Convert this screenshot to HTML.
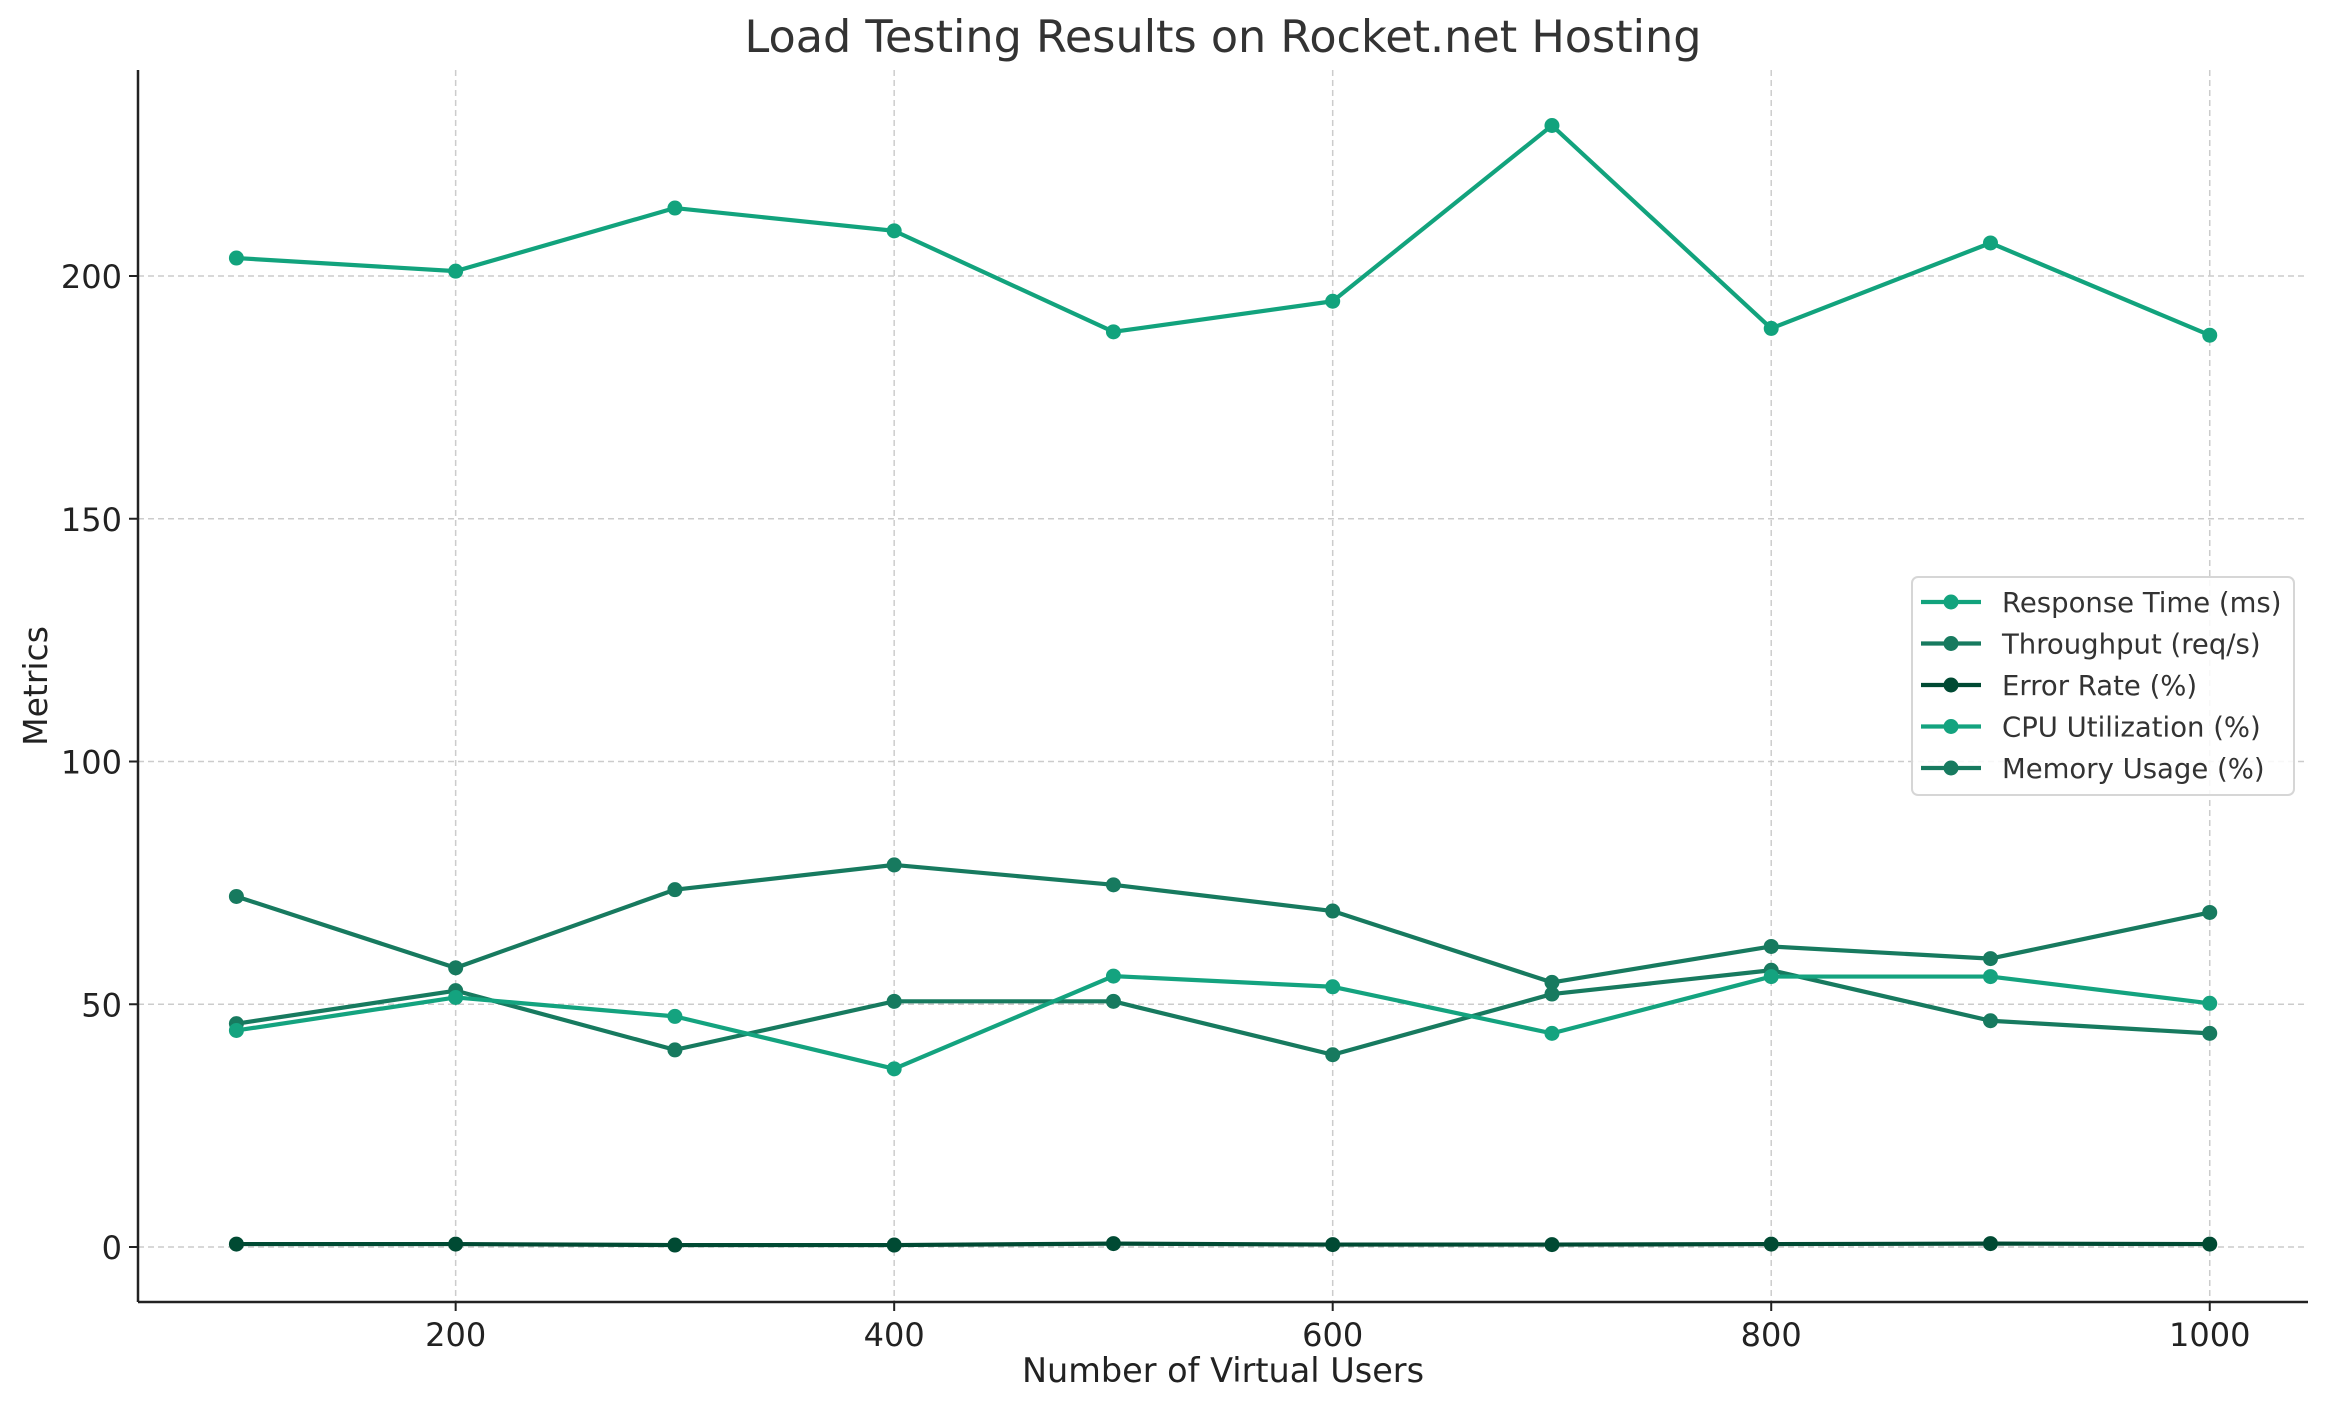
<!DOCTYPE html>
<html><head><meta charset="utf-8"><style>
html,body{margin:0;padding:0;background:#fff;}
svg{display:block;font-family:"DejaVu Sans","Liberation Sans",sans-serif;}
</style></head><body>
<svg id="c" width="2327" height="1409" viewBox="0 0 2327 1409" xmlns="http://www.w3.org/2000/svg">
<rect width="2327" height="1409" fill="#fff"/>
<g id="grid"></g>
<g id="series"></g>
<line x1="138" y1="70" x2="138" y2="1302" stroke="#222" stroke-width="2.5"/>
<line x1="138" y1="1302" x2="2308" y2="1302" stroke="#222" stroke-width="2.5"/>
<g id="ticks" fill="#222" font-size="32"></g>
<text x="1223" y="52" text-anchor="middle" font-size="44.5" fill="#333">Load Testing Results on Rocket.net Hosting</text>
<text x="1223" y="1382" text-anchor="middle" font-size="33.5" fill="#222">Number of Virtual Users</text>
<text transform="translate(47,686) rotate(-90)" text-anchor="middle" font-size="33" fill="#222">Metrics</text>
<g id="legend"></g>
</svg>
<script>
const NS="http://www.w3.org/2000/svg";
function el(p,t,a,txt){const e=document.createElementNS(NS,t);for(const k in a)e.setAttribute(k,a[k]);if(txt!=null)e.textContent=txt;p.appendChild(e);return e;}
const X=v=>236.4+(v-100)*2.1926, Y=v=>1247-v*4.855;
const grid=document.getElementById('grid'),ticks=document.getElementById('ticks');
[200,400,600,800,1000].forEach(v=>{const x=X(v);
el(grid,'line',{x1:x,y1:70,x2:x,y2:1302,stroke:'#ccc','stroke-width':1.5,'stroke-dasharray':'6,4'});
el(ticks,'line',{x1:x,y1:1302,x2:x,y2:1311,stroke:'#222','stroke-width':2});
el(ticks,'text',{x:x,y:1346,'text-anchor':'middle'},v);});
[0,50,100,150,200].forEach(v=>{const y=Y(v);
el(grid,'line',{x1:138,y1:y,x2:2308,y2:y,stroke:'#ccc','stroke-width':1.5,'stroke-dasharray':'6,4'});
el(ticks,'line',{x1:129,y1:y,x2:138,y2:y,stroke:'#222','stroke-width':2});
el(ticks,'text',{x:122,y:y+12,'text-anchor':'end'},v);});
const xs=[100,200,300,400,500,600,700,800,900,1000];
const S=[
["Response Time (ms)","#12a37d",[203.7,201,214,209.3,188.5,194.8,231,189.2,206.8,187.8]],
["Throughput (req/s)","#177a5f",[46,52.8,40.6,50.6,50.6,39.6,52.1,57,46.6,44]],
["Error Rate (%)","#004a33",[0.6,0.6,0.4,0.4,0.7,0.5,0.5,0.6,0.7,0.6]],
["CPU Utilization (%)","#14a37f",[44.6,51.4,47.5,36.7,55.8,53.6,44,55.7,55.7,50.2]],
["Memory Usage (%)","#177a5f",[72.2,57.5,73.6,78.7,74.6,69.2,54.5,61.9,59.4,68.9]]];
const sg=document.getElementById('series'),lg=document.getElementById('legend');
el(lg,'rect',{x:1912,y:577,width:382,height:218,rx:6,fill:'#fff','fill-opacity':0.85,stroke:'#d6d6d6','stroke-width':2});
S.forEach((s,i)=>{
el(sg,'polyline',{points:xs.map((x,j)=>X(x)+','+Y(s[2][j])).join(' '),fill:'none',stroke:s[1],'stroke-width':4.2,'stroke-linejoin':'round'});
xs.forEach((x,j)=>el(sg,'circle',{cx:X(x),cy:Y(s[2][j]),r:7.5,fill:s[1]}));
const y=602+i*41.5;
el(lg,'line',{x1:1921,y1:y,x2:1981,y2:y,stroke:s[1],'stroke-width':4.2});
el(lg,'circle',{cx:1951,cy:y,r:7.5,fill:s[1]});
el(lg,'text',{x:2002,y:y+10,'font-size':27.5,fill:'#333'},s[0]);
});
</script>
</body></html>
